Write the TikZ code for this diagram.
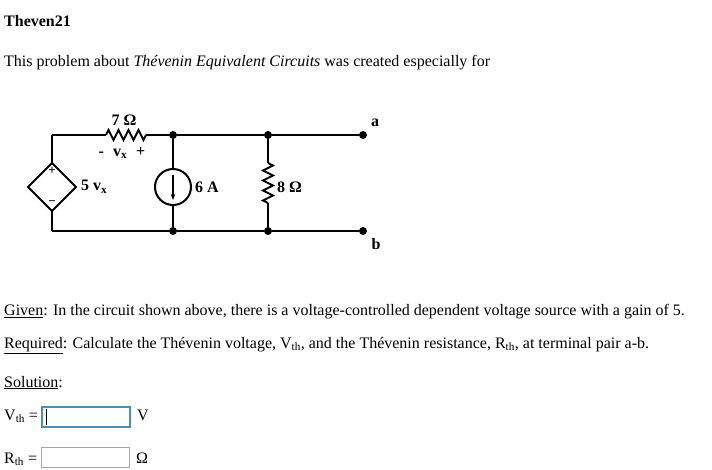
\documentclass[tikz,border=0pt]{standalone}
\usepackage{fontspec}
\setmainfont{Liberation Serif}
\usetikzlibrary{decorations.pathmorphing,arrows.meta}
\begin{document}
\begin{tikzpicture}[x=1pt,y=-1pt,
  txt/.style={anchor=base west,inner sep=0pt,font=\fontsize{16}{19}\selectfont},
  lbl/.style={inner sep=0pt,font=\fontsize{16}{18}\selectfont\bfseries},
  wire/.style={line width=2pt},
  zz/.style={wire,decorate,decoration={zigzag,segment length=10pt,amplitude=5pt}},
  dot/.style={circle,fill=black,inner sep=0pt,minimum size=8pt},
  inbox/.style={draw=gray!70,line width=1pt,minimum width=88pt,minimum height=20pt,inner sep=0pt}]
\useasboundingbox (0,0) rectangle (712,470);
\node[txt,font=\fontsize{16}{19}\selectfont\bfseries] (title) at (4,27) {Theven21};
\node[txt] (intro) at (4,67) {This problem about \textit{Thévenin Equivalent Circuits} was created especially for};
% circuit
\coordinate (tl) at (52,135); \coordinate (bl) at (52,231);
\coordinate (r7a) at (106,135); \coordinate (r7b) at (146,135);
\node[dot] (n1) at (173,135) {}; \node[dot] (n2) at (268,135) {}; \node[dot] (ta) at (363,135) {};
\node[dot] (n3) at (173,231) {}; \node[dot] (n4) at (268,231) {}; \node[dot] (tb) at (363,231) {};
\draw[wire] (tl) -- (r7a);
\draw[zz] (r7a) -- (r7b);
\draw[wire] (r7b) -- (n1) -- (n2) -- (ta);
\draw[wire] (bl) -- (n3) -- (n4) -- (tb);
% dependent source
\coordinate (dt) at (52,163); \coordinate (db) at (52,211);
\draw[wire] (tl) -- (dt); \draw[wire] (db) -- (bl);
\draw[wire] (dt) -- (76,187) -- (db) -- (28,187) -- cycle;
\node[lbl,font=\fontsize{13}{14}\selectfont\bfseries] (dp) at (52,171) {+};
\node[lbl,font=\fontsize{13}{14}\selectfont\bfseries] (dm) at (52,203) {−};
\node[lbl,anchor=west] (dl) at (81,187) {5 v\textsubscript{x}};
% current source
\node[circle,draw,line width=2pt,minimum size=36pt,inner sep=0pt] (cs) at (173,187) {};
\draw[wire] (n1) -- (cs.north); \draw[wire] (cs.south) -- (n3);
\draw[line width=1.2pt,-{Stealth[length=6pt]}] (173,175) -- (173,200);
\node[lbl,anchor=west] (csl) at (195,187) {6 A};
% 8 ohm
\coordinate (r8a) at (268,163); \coordinate (r8b) at (268,203);
\draw[wire] (n2) -- (r8a);
\draw[zz] (r8a) -- (r8b);
\draw[wire] (r8b) -- (n4);
\node[lbl,anchor=west] (r8l) at (277,187) {8 Ω};
\node[lbl] (r7l) at (124,120) {7 Ω};
\node[lbl] (vxl) at (122,153) {-\hspace{9pt}v\textsubscript{x}\hspace{9pt}+};
\node[lbl] (al) at (375,123) {a};
\node[lbl] (bl2) at (376,244) {b};
% text
\node[txt] (given) at (4,316) {\underline{Given}: In the circuit shown above, there is a voltage-controlled dependent voltage source with a gain of 5.};
\node[txt] (req) at (4,348) {\underline{Required}: Calculate the Thévenin voltage, V\textsubscript{th}, and the Thévenin resistance, R\textsubscript{th}, at terminal pair a-b.};
\node[txt] (sol) at (4,387) {\underline{Solution}:};
\node[txt] (vth) at (4,420) {V\textsubscript{th} =};
\node[inbox,draw=blue!35!cyan!40!gray,line width=1.5pt] (vbox) at (86,417) {};
\draw[line width=0.8pt] ([xshift=5pt,yshift=-3pt]vbox.north west) -- ([xshift=5pt,yshift=3pt]vbox.south west);
\node[txt] (vu) at (137,420) {V};
\node[txt] (rth) at (4,463) {R\textsubscript{th} =};
\node[inbox] (rbox) at (85,457) {};
\node[txt] (ru) at (136,463) {Ω};
\end{tikzpicture}
\end{document}
